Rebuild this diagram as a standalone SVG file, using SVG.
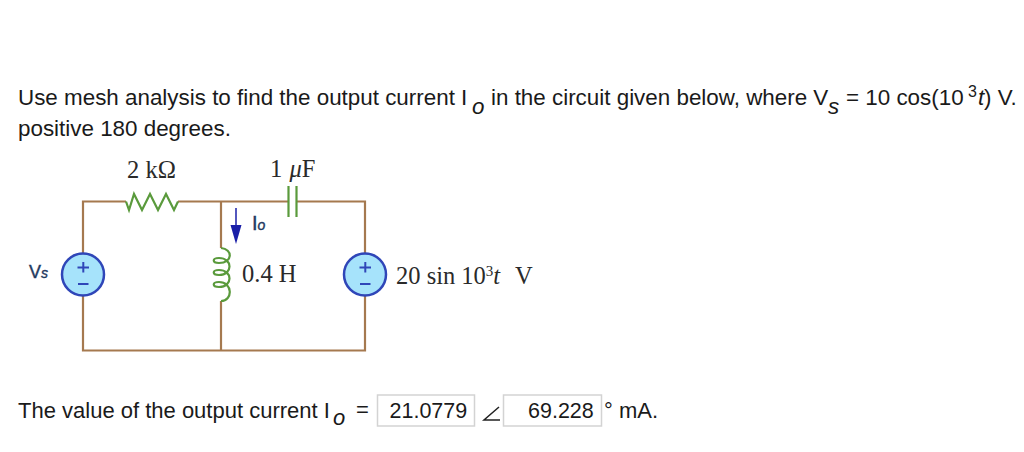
<svg xmlns="http://www.w3.org/2000/svg" width="1024" height="452" viewBox="0 0 1024 452">
<style>
.s{font-family:"Liberation Sans",Arial,sans-serif;font-size:22.4px;fill:#1a1a1a}
.a{font-size:22px}
.c{font-family:"Liberation Serif","Times New Roman",serif;font-size:24.500px;fill:#2a2a2a}
.w{fill:none;stroke:#a5794f;stroke-width:2.200}
.g{fill:none;stroke:#5a9a3c;stroke-width:2.200}
.src{fill:#a6e3fb;stroke:#2f46b8;stroke-width:2.500}
.sg{fill:none;stroke:#2f46b8;stroke-width:2}
.box{fill:#fff;stroke:#d3d3d3;stroke-width:1.500}
.lab{font-family:"Liberation Sans",Arial,sans-serif;fill:#1f3a5f;stroke:#1f3a5f;stroke-width:.4}
</style>
<rect width="1024" height="452" fill="#fff"/>
<g id="question">
<text class="s" x="18" y="105">Use mesh analysis to find the output current I</text>
<text class="s" x="472" y="114" font-style="italic">o</text>
<text class="s" x="491" y="105">in the circuit given below, where V</text>
<text class="s" x="828" y="114" font-style="italic">s</text>
<text class="s" x="846" y="105">= 10 cos(10</text>
<text class="s" x="968" y="97" style="font-size:16px">3</text>
<text class="s" x="978" y="105" font-style="italic">t</text>
<text class="s" x="984" y="105">) V.</text>
<text class="s" x="18" y="136">positive 180 degrees.</text>
</g>
<g id="connectors">
<path class="w" d="M83 253V201.500H126M178 201.500H288M296 201.500H365V253M221 201.500V248M221 301V350.500M83 296V350.500H365V296"/>
</g>
<g id="resistor"><path class="g" d="M126 201.500L129 210 134 194 142 210 150 194 158 210 166 194 174 210 178 201.500"/>
<text class="c" x="127" y="178">2 kΩ</text></g>
<g id="capacitor"><path class="g" d="M288.500 186V217M296.500 186V217"/>
<text class="c" x="270" y="177">1 <tspan font-style="italic" dx="1">μ</tspan>F</text></g>
<g id="inductor"><path class="g" d="M221 248C233 249 233 263 219 263C212 263 212 258 219 258C233 258 233 275 219 275C212 275 212 270 219 270C233 270 233 287 219 287C212 287 212 282 219 282C233 282 233 301 221 301"/>
<text class="c" x="242" y="282">0.4 H</text></g>
<g id="io"><path d="M236 208V226" stroke="#1a1fa8" stroke-width="1.500" fill="none"/><path d="M230.500 225H241.500L236 244Z" fill="#1a1fa8"/>
<text class="lab" x="252" y="230" font-size="20">I<tspan font-size="14" font-style="italic">o</tspan></text></g>
<g id="vs"><circle class="src" cx="83" cy="274.500" r="21"/><path class="sg" d="M77.500 267.500H89M83.300 262V272.500M78 284H88.500"/>
<text class="lab" x="29" y="278" font-size="18">V<tspan font-size="14" font-style="italic">s</tspan></text></g>
<g id="v2"><circle class="src" cx="365" cy="274.500" r="21"/><path class="sg" d="M359.500 267.500H371M365.300 262V272.500M360 284H370.500"/>
<text class="c" x="396" y="284">20 sin 10<tspan font-size="15" dy="-8">3</tspan><tspan font-style="italic" dy="8">t</tspan><tspan x="515">V</tspan></text></g>
<g id="answer">
<text class="s a" x="18" y="418">The value of the output current I</text>
<text class="s a" x="333" y="425" font-style="italic">o</text>
<text class="s a" x="356" y="417">=</text>
<rect class="box" x="377.500" y="395" width="97" height="31"/>
<text class="s" x="389.500" y="418" style="font-size:21.500px">21.0779</text>
<path d="M499 407L484 420H500" fill="none" stroke="#222" stroke-width="1.500"/>
<rect class="box" x="503.500" y="395" width="98" height="31"/>
<text class="s" x="528" y="418" style="font-size:21.500px">69.228</text>
<text class="s a" x="604" y="418">°</text>
<text class="s a" x="619" y="418">mA.</text>
</g>
</svg>
